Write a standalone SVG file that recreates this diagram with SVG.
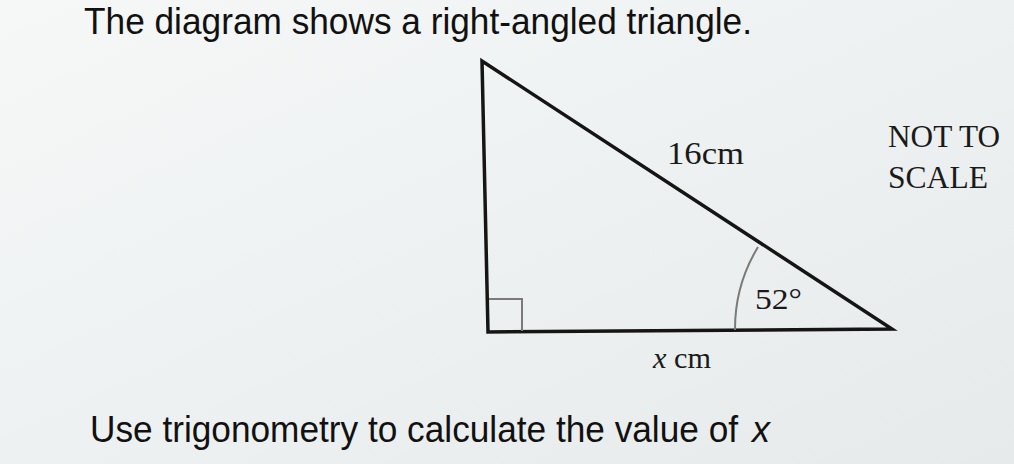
<svg xmlns="http://www.w3.org/2000/svg" width="1014" height="464" viewBox="0 0 1014 464">
<defs>
<linearGradient id="bg" x1="0" y1="0" x2="1" y2="1">
<stop offset="0" stop-color="#f6f8f8"/>
<stop offset="1" stop-color="#e6eaea"/>
</linearGradient>
<style>
.sans{font-family:"Liberation Sans",Arial,sans-serif;fill:#111}
.serif{font-family:"Liberation Serif","Times New Roman",serif;fill:#1a1a1a}
.edge{fill:none;stroke:#151515;stroke-width:3.5;stroke-linejoin:miter}
.thin{fill:none;stroke:#7a7a7a;stroke-width:2}
</style>
</defs>
<rect width="1014" height="464" fill="url(#bg)"/>
<text class="sans" x="84" y="34" font-size="37" textLength="668" lengthAdjust="spacingAndGlyphs">The diagram shows a right-angled triangle.</text>
<g id="triangle">
<polygon class="edge" points="482,61 488,332 892,329"/>
</g>
<g id="right-angle">
<polyline class="thin" points="489,299 522,299 522,331"/>
</g>
<g id="angle-arc">
<path class="thin" d="M758,247 A158,158 0 0 0 735,330" stroke-width="1.6"/>
</g>
<g id="labels">
<text class="serif" x="667" y="164" font-size="31" textLength="77" lengthAdjust="spacingAndGlyphs">16cm</text>
<text class="serif" x="755" y="309" font-size="30" textLength="47" lengthAdjust="spacingAndGlyphs">52°</text>
<text class="serif" x="653" y="368" font-size="30" textLength="58" lengthAdjust="spacingAndGlyphs"><tspan font-style="italic">x</tspan> cm</text>
<text class="serif" x="888" y="147" font-size="32" textLength="112" lengthAdjust="spacingAndGlyphs">NOT TO</text>
<text class="serif" x="888" y="188" font-size="32" textLength="100" lengthAdjust="spacingAndGlyphs">SCALE</text>
</g>
<text class="sans" x="90" y="442" font-size="36" textLength="648" lengthAdjust="spacingAndGlyphs">Use trigonometry to calculate the value of</text>
<text class="sans" x="752" y="442" font-size="36" font-style="italic">x</text>
</svg>
